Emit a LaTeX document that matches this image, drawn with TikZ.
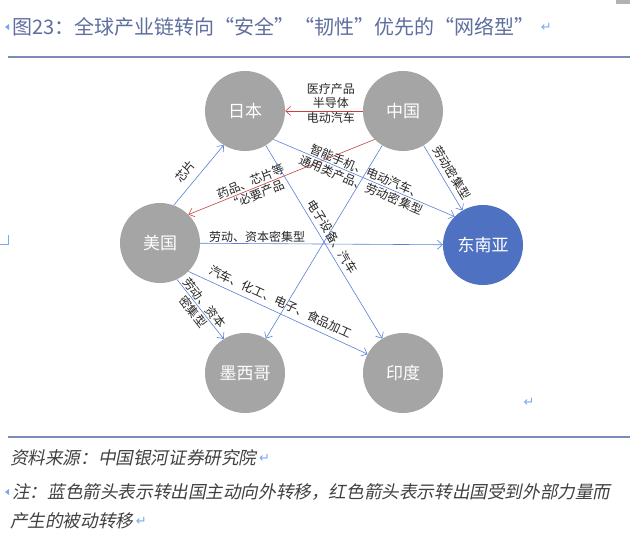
\documentclass[tikz,border=0pt]{standalone}
\usepackage{fontspec}
\setmainfont{Noto Sans CJK SC}
\newfontfamily\itfont[FakeSlant=0.2]{Noto Sans CJK SC}
\newfontfamily\symfont{DejaVu Sans}
\usetikzlibrary{arrows.meta}
\definecolor{nodegray}{HTML}{A5A5A5}
\definecolor{nodeblue}{HTML}{4F71C2}
\definecolor{lineblue}{HTML}{5B80D6}
\definecolor{linered}{HTML}{C9413F}
\definecolor{titleblue}{HTML}{5E6E9E}
\definecolor{rulecol}{HTML}{7C8BB8}
\definecolor{markblue}{HTML}{78A8EE}
\tikzset{%
  myedge/.style={-{Straight Barb[length=5pt,width=9pt]}, draw=lineblue, line width=0.6pt},
  myredge/.style={myedge, draw=linered},
  mynode/.style={circle, fill=nodegray, minimum size=80pt, inner sep=0pt, text=white, font=\fontsize{17}{17}\selectfont},
  mylabel/.style={font=\fontsize{12}{14.5}\selectfont, align=center, inner sep=0pt, text=black!85},
  mytext/.style={anchor=west, inner sep=0pt},
  mymark/.style={inner sep=0pt, text=markblue, font=\symfont\fontsize{13}{13}\selectfont}
}

\begin{document}
\begin{tikzpicture}[x=1pt, y=-1pt]
\useasboundingbox [fill=white] (0,0) rectangle (630,550);

\node [mytext, text=titleblue, font=\fontsize{20}{20}\selectfont] (title) at (12,27)
  {图23：全球产业链转向“安全”“韧性”优先的“网络型”};
\node [mymark, anchor=west] (m1) at ([xshift=6pt]title.east) {↵};
\fill [markblue] (5,27) -- (9,24) -- (9,30) -- cycle;
\fill [black!30] (616,0) rectangle (630,4);
\draw [rulecol, line width=2pt] (8,57) -- (630,57);

\node [mynode] (JP) at (245,111) {日本};
\node [mynode] (CN) at (403,111) {中国};
\node [mynode] (US) at (160,243) {美国};
\node [mynode, fill=nodeblue] (SEA) at (483,245) {东南亚};
\node [mynode] (MX) at (245,373) {墨西哥};
\node [mynode] (IN) at (403,373) {印度};

% 箭头
\draw [myredge] (CN) -- (JP) node [mylabel, pos=0.41, yshift=8pt] (L1) {医疗产品\\半导体\\电动汽车};
\draw [myredge] (CN.south west) -- (US.north east) node [mylabel, sloped, pos=0.65] (L2) {药品、芯片等\\“必要产品};
\draw [myedge] (US.70) -- (JP.238) node [mylabel, sloped, above=7pt, pos=0.43] (L3) {芯片};
\draw [myedge] (JP.-45) -- (SEA.135) node [mylabel, sloped, pos=0.5] (L4) {智能手机、电动汽车、\\通用类产品、劳动密集型};
\draw [myedge] (JP) -- (IN) node [mylabel, sloped, above=4pt, pos=0.5] (L5) {电子设备、汽车};
\draw [myedge] (CN) -- (MX);
\draw [myedge] (CN) -- (SEA) node [mylabel, sloped, above=4.5pt, pos=0.5] (L6) {劳动密集型};
\draw [myedge] (US) -- (SEA) node [mylabel, above=1pt, pos=0.235] (L7) {劳动、资本密集型};
\draw [myedge] (US.-45) -- (IN.152) node [mylabel, sloped, above=5pt, pos=0.49] (L8) {汽车、化工、电子、食品加工};
\draw [myedge] (US.-65) -- (MX.122) node [mylabel, sloped, pos=0.47] (L9) {劳动、资本\\密集型};

\draw [markblue, line width=1pt] (0,244) -- (8,244) -- (8,235);
\node [mymark] (m2) at (529,402) {↵};

\draw [rulecol, line width=2pt] (8,437) -- (630,437);
\node [mytext, text=black!75, font=\itfont\fontsize{17.6}{17.6}\selectfont] (src) at (10,458)
  {资料来源：中国银河证券研究院};
\node [mymark, anchor=west] (m3) at ([xshift=2pt]src.east) {↵};
\node [mytext, text=black!75, font=\itfont\fontsize{17.6}{17.6}\selectfont] (note1) at (12,492)
  {注：蓝色箭头表示转出国主动向外转移，红色箭头表示转出国受到外部力量而};
\fill [markblue] (5,492) -- (9,489) -- (9,495) -- cycle;
\node [mytext, text=black!75, font=\itfont\fontsize{17.6}{17.6}\selectfont] (note2) at (10,521)
  {产生的被动转移};
\node [mymark, anchor=west] (m4) at ([xshift=2pt]note2.east) {↵};
\end{tikzpicture}
\end{document}
